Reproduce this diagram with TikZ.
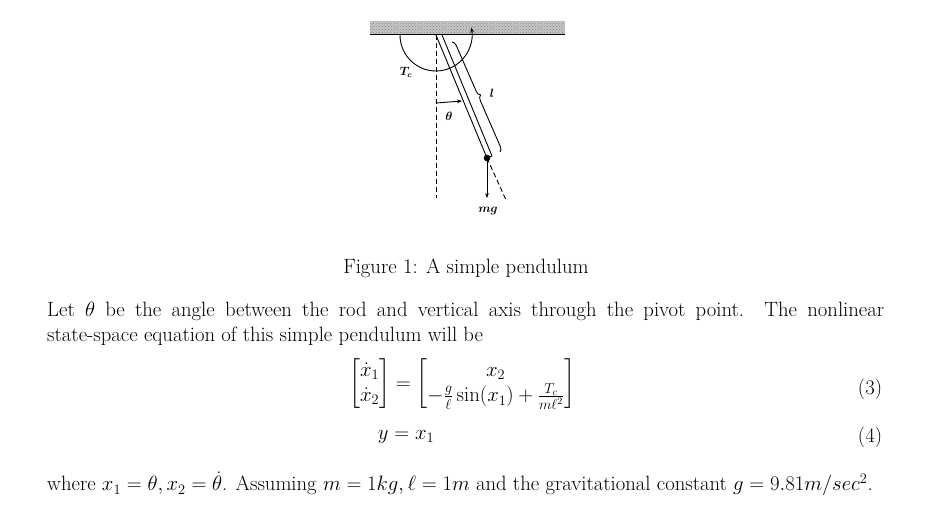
\documentclass[tikz,border=0pt]{standalone}
\usepackage{amsmath}
\usetikzlibrary{decorations.pathreplacing,patterns,arrows.meta}
\begin{document}
\begin{tikzpicture}[x=1pt,y=-1pt,
  txt/.style={font=\fontsize{20.7}{25}\selectfont,inner sep=0},
  lab/.style={font=\fontsize{12}{14}\selectfont\bfseries\itshape,inner sep=0},
  thin/.style={line width=0.9pt},
  dsh/.style={dash pattern=on 5pt off 3pt}]
\useasboundingbox (0,0) rectangle (936,523);
% ceiling
\path[fill=gray!45] (370,21) rectangle (565,34);
\path[pattern=crosshatch dots,pattern color=gray] (370,21) rectangle (565,34);
\draw[line width=1.2pt] (370,34.5) -- (565,34.5);
\coordinate (pivot) at (436,35);
\coordinate (bob) at (487,158);
\coordinate (base) at (436,198);
\draw[thin,dsh] (pivot) -- (base);
% rod
\draw[thin] (pivot) -- (bob);
\draw[thin] (442,35) -- (492,156);
\draw[thin] (bob) -- (492,156);
\fill (bob) circle (3.3);
\draw[thin,dsh] (bob) -- (506,200);
\coordinate (mgend) at (487,198);
\draw[thin,-{Stealth[length=5pt]}] (bob) -- (mgend);
\node[lab] (mg) at (488,211) {$\boldsymbol{mg}$};
% brace
\draw[thin,decorate,decoration={brace,amplitude=5pt}] (452,42) -- (500,152);
\node[lab] (l) at (492,93) {$\boldsymbol{l}$};
% theta
\draw[thin,-{Stealth[length=5pt]}] (436,103) -- (462,101);
\node[lab] (th) at (449,116) {$\boldsymbol{\theta}$};
% Tc
\draw[thin,-{Stealth[length=5pt]}] (pivot) ++(180:36) arc[start angle=180,end angle=-12,radius=36];
\node[lab] (tc) at (406,72) {$\boldsymbol{T_c}$};
% text
\node[txt] (cap) at (466,268) {Figure 1: A simple pendulum};
\node[txt,text width=837pt,align=justify,anchor=north west] (para) at (47,302) {Let $\theta$ be the angle between the rod and vertical axis through the pivot point. The nonlinear\linebreak state-space equation of this simple pendulum will be};
\node[txt] (eq3) at (462,384) {$\begin{bmatrix}\dot x_1\\ \dot x_2\end{bmatrix}=\begin{bmatrix}x_2\\ -\frac{g}{\ell}\sin(x_1)+\frac{T_c}{m\ell^2}\end{bmatrix}$};
\node[txt] (n3) at (870,389) {(3)};
\node[txt] (eq4) at (406,437) {$y=x_1$};
\node[txt] (n4) at (870,437) {(4)};
\node[txt,anchor=west] (last) at (47,484) {where $x_1=\theta,x_2=\dot\theta$. Assuming $m=1kg,\ell=1m$ and the gravitational constant $g=9.81m/sec^2$.};
\end{tikzpicture}
\end{document}
